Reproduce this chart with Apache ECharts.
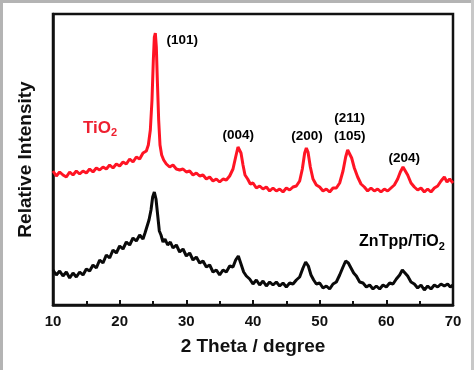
<!DOCTYPE html>
<html><head><meta charset="utf-8">
<script src="https://cdn.jsdelivr.net/npm/echarts@6/dist/echarts.min.js"></script>
<style>html,body{margin:0;padding:0;background:#fff}#c{width:474px;height:370px}</style>
</head><body><div id="c"></div>
<script>
// 2-theta positions and relative intensities
const xTiO2 = [10,10.5,11,11.5,12,12.5,13,13.5,14,14.5,15,15.5,16,16.5,17,17.5,18,18.5,19,19.5,20,20.5,21,21.5,22,22.5,23,23.5,24,24.3,24.6,24.85,25.05,25.2,25.35,25.5,25.65,25.85,26.05,26.3,26.6,27,27.5,28,28.5,29,29.5,30,30.5,31,31.5,32,32.5,33,33.5,34,34.5,35,35.5,36,36.5,37,37.4,37.75,37.95,38.2,38.5,38.8,39.2,39.6,40,40.5,41,41.5,42,42.5,43,43.5,44,44.5,45,45.5,46,46.5,47,47.4,47.75,48,48.25,48.6,49,49.5,50,50.5,51,51.5,52,52.5,53,53.5,53.9,54.2,54.5,54.8,55.2,55.7,56.2,56.7,57.2,57.7,58.2,58.7,59.2,59.7,60.2,60.7,61.2,61.7,62.1,62.5,62.8,63.2,63.7,64.2,64.7,65.2,65.7,66.2,66.7,67.2,67.7,68.2,68.7,69.1,69.5,70];
const yTiO2 = [134,129,133,130,128,133,130,134,131,134,132,136,133,137,135,138,136,140,137,141,139,143,141,146,143,148,146,152,154,160,175,205,245,268,272,258,225,185,160,150,145,141,138,140,136,135,136,133,134,130,132,129,130,126,128,124,126,123,126,125,129,136,148,158,160,152,140,130,126,121,122,117,119,116,118,114,117,114,116,113,117,115,118,119,124,136,152,157,153,138,126,120,118,114,116,113,117,117,122,134,148,155,155,147,137,128,121,118,114,117,114,116,113,116,114,117,120,126,133,138,136,130,122,118,115,117,113,116,113,117,119,124,128,123,126,122];
const xZnTpp = [10,10.5,11,11.5,12,12.5,13,13.5,14,14.5,15,15.5,16,16.5,17,17.5,18,18.5,19,19.5,20,20.5,21,21.5,22,22.5,23,23.5,23.8,24.1,24.4,24.7,24.95,25.2,25.45,25.7,25.95,26.2,26.5,26.8,27.2,27.6,28,28.5,29,29.5,30,30.5,31,31.5,32,32.5,33,33.5,34,34.5,35,35.5,36,36.5,37,37.4,37.8,38.2,38.6,39,39.5,40,40.5,41,41.5,42,42.5,43,43.5,44,44.5,45,45.5,46,46.5,47,47.5,47.9,48.3,48.7,49.1,49.5,50,50.5,51,51.5,52,52.5,53,53.5,53.9,54.3,54.7,55.1,55.5,56,56.5,57,57.5,58,58.5,59,59.5,60,60.5,61,61.5,62,62.4,62.8,63.2,63.7,64.2,64.7,65.2,65.7,66.2,66.7,67.2,67.7,68.2,68.7,69.2,69.6,70];
const yZnTpp = [35,30,34,29,33,27,32,28,33,30,36,34,40,37,45,42,50,47,55,52,59,56,63,60,67,64,70,66,72,74,85,95,108,113,106,90,74,70,63,66,60,63,57,60,53,56,49,52,45,48,42,44,38,40,33,35,30,35,33,39,38,45,49,41,33,29,26,21,25,20,24,19,23,20,23,19,22,18,22,21,25,28,37,43,39,30,25,21,22,17,19,16,21,23,30,38,44,42,37,32,29,23,22,18,20,16,19,16,20,18,22,21,26,30,35,32,29,23,21,17,20,15,19,16,20,18,21,19,21,18,20];
const xTicks = [10,20,30,40,50,60,70];
const peakLabels = ['(101)','(004)','(200)','(211)','(105)','(204)'];
const peakLabelX = [29.4,37.8,48.1,54.5,54.5,62.7];
const peakLabelY = [265,170,169,187,169,147];
const seriesNames = ['TiO2','ZnTpp/TiO2'];
const seriesLabelX = [17.05,62.35];
const seriesLabelY = [177,63];

const chart = echarts.init(document.getElementById('c'), null, {renderer:'canvas'});
const font = 'Liberation Sans, Arial, sans-serif';
const zip = (xs, ys) => xs.map((x,i)=>[x, ys[i]]);
const noStroke = {textBorderWidth:0,textBorderColor:'transparent',textShadowBlur:0};
chart.setOption({
  backgroundColor:'#fff',
  animation:false,
  grid:{left:53,right:21,top:14,bottom:65,show:true,borderColor:'#111',borderWidth:2.5,backgroundColor:'transparent'},
  xAxis:{type:'value',min:10,max:70,interval:10,
    axisLine:{show:true,lineStyle:{color:'#111',width:2.5}},
    axisTick:{show:true,inside:true,length:5,lineStyle:{color:'#111',width:2}},
    minorTick:{show:true,splitNumber:2,length:4,lineStyle:{color:'#111',width:2}},
    splitLine:{show:false},
    axisLabel:{color:'#111',fontFamily:font,fontWeight:'bold',fontSize:15,margin:9,
      formatter:v=>xTicks.includes(v)?String(v):''},
    name:'2 Theta / degree',nameLocation:'middle',nameGap:32,
    nameTextStyle:{color:'#111',fontFamily:font,fontWeight:'bold',fontSize:19}},
  yAxis:{type:'value',min:0,max:291,
    axisLine:{show:true,lineStyle:{color:'#111',width:2.5}},
    axisTick:{show:false},axisLabel:{show:false},splitLine:{show:false},
    name:'Relative Intensity',nameLocation:'middle',nameGap:18,
    nameTextStyle:{color:'#111',fontFamily:font,fontWeight:'bold',fontSize:19}},
  series:[
    {type:'line',name:seriesNames[0],data:zip(xTiO2,yTiO2),showSymbol:false,symbol:'none',
      lineStyle:{color:'#ff1424',width:3},z:3},
    {type:'line',name:seriesNames[1],data:zip(xZnTpp,yZnTpp),showSymbol:false,symbol:'none',
      lineStyle:{color:'#0a0a0a',width:3},z:3},
    {type:'scatter',symbolSize:0,silent:true,z:5,itemStyle:{color:'#000',opacity:1},
      data:peakLabels.map((t,i)=>({value:[peakLabelX[i],peakLabelY[i]],name:t})),
      label:Object.assign({show:true,position:'inside',formatter:p=>p.name,color:'#000',
        fontFamily:font,fontWeight:'bold',fontSize:13.5},noStroke)},
    {type:'scatter',symbolSize:0,silent:true,z:5,itemStyle:{color:'#000',opacity:1},
      data:[{value:[seriesLabelX[0],seriesLabelY[0]],name:seriesNames[0]}],
      label:Object.assign({show:true,position:'inside',formatter:'{a|TiO}{b|2}',
        rich:{a:Object.assign({color:'#ee2030',fontFamily:font,fontWeight:'bold',fontSize:17},noStroke),
              b:Object.assign({color:'#ee2030',fontFamily:font,fontWeight:'bold',fontSize:11,padding:[10,0,0,0]},noStroke)}},noStroke)},
    {type:'scatter',symbolSize:0,silent:true,z:5,itemStyle:{color:'#000',opacity:1},
      data:[{value:[seriesLabelX[1],seriesLabelY[1]],name:seriesNames[1]}],
      label:Object.assign({show:true,position:'inside',formatter:'{a|ZnTpp/TiO}{b|2}',
        rich:{a:Object.assign({color:'#000',fontFamily:font,fontWeight:'bold',fontSize:16},noStroke),
              b:Object.assign({color:'#000',fontFamily:font,fontWeight:'bold',fontSize:11,padding:[10,0,0,0]},noStroke)}},noStroke)}
  ],
  graphic:[
    {type:'rect',shape:{x:0,y:0,width:474,height:3},style:{fill:'#b4b4b4'},silent:true},
    {type:'rect',shape:{x:0,y:0,width:3,height:370},style:{fill:'#b4b4b4'},silent:true},
    {type:'rect',shape:{x:471,y:0,width:3,height:370},style:{fill:'#c8c8c8'},silent:true}
  ]
});
</script></body></html>
